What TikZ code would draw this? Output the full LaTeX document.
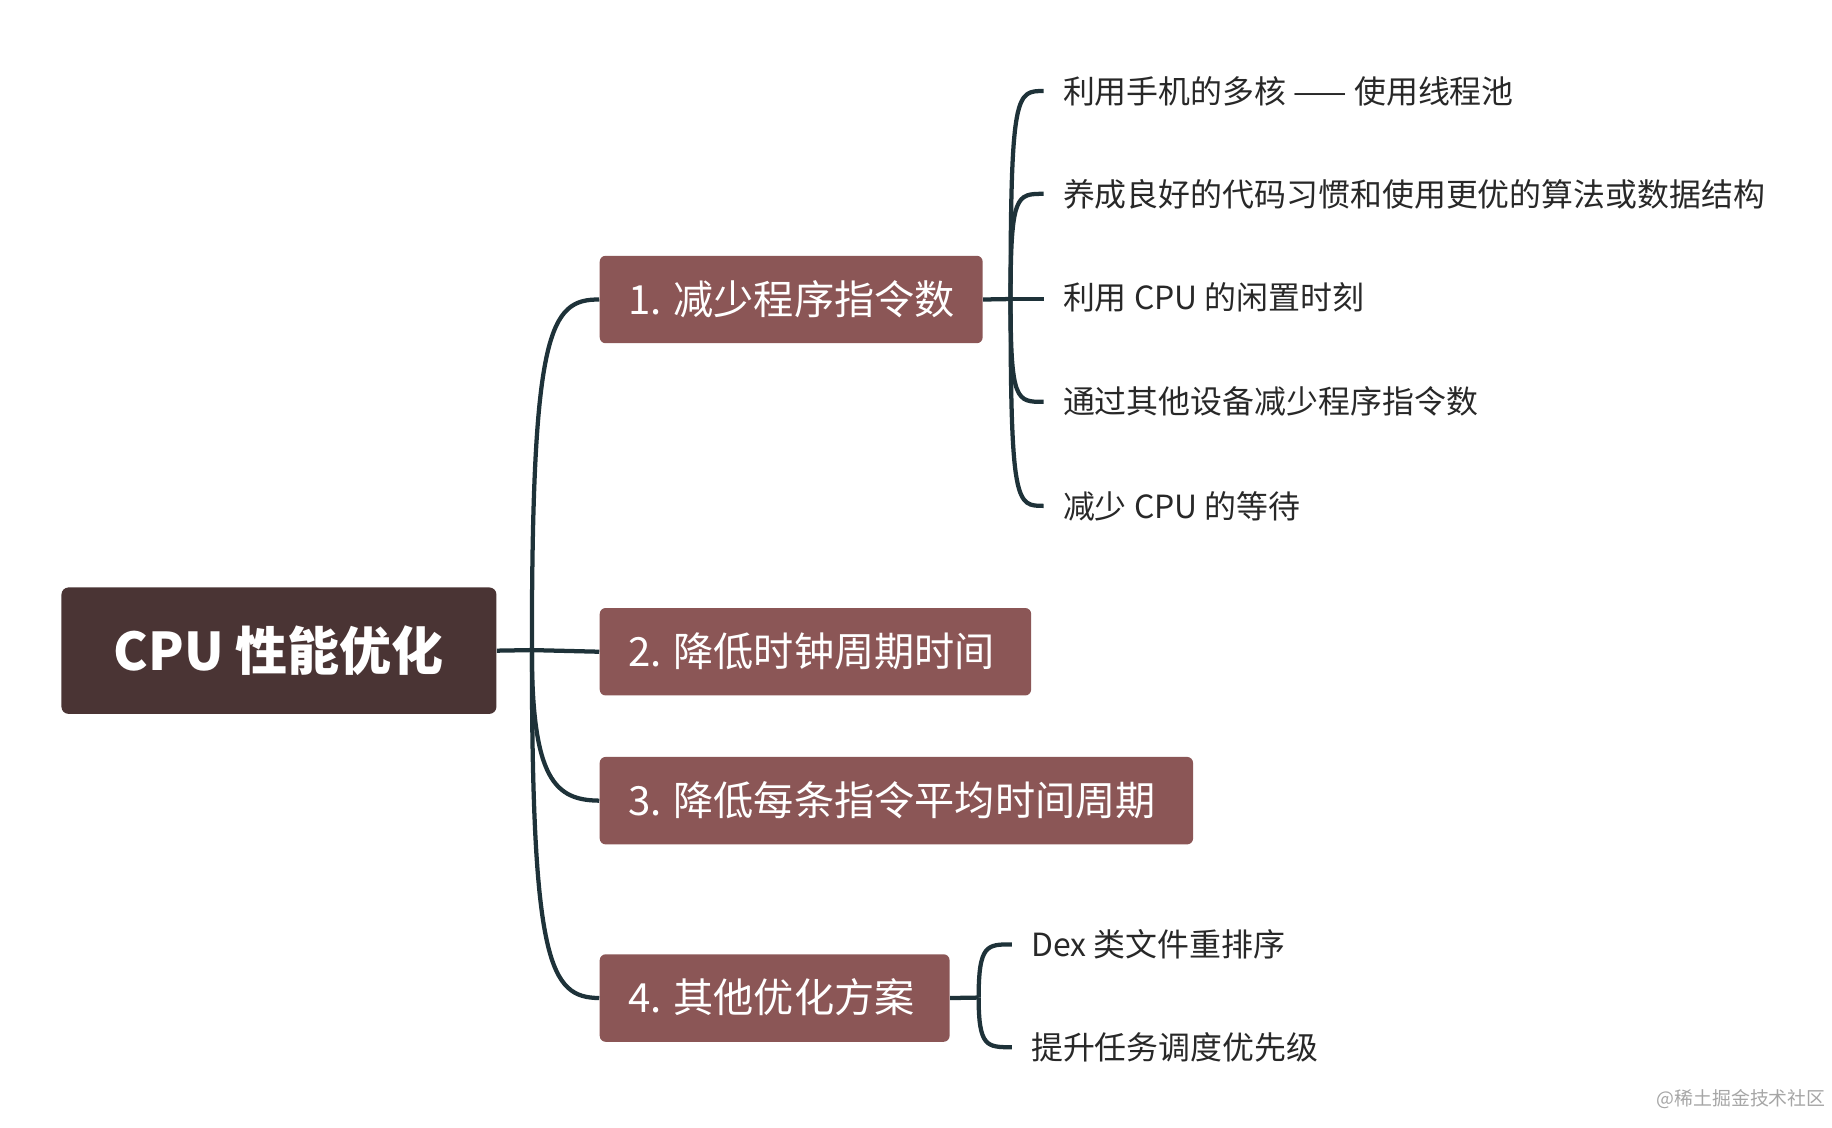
\documentclass[tikz,border=0pt]{standalone}
\usepackage{fontspec}
\setmainfont{Noto Sans CJK SC}
\begin{document}
\begin{tikzpicture}[x=0.5pt,y=-0.5pt,
 root/.style={fill={rgb,255:red,74;green,52;blue,52},rounded corners=3pt,text=white,font=\fontsize{22}{24}\selectfont\bfseries,inner sep=0pt},
 br/.style={fill={rgb,255:red,139;green,86;blue,86},rounded corners=2.5pt,text=white,font=\fontsize{17}{20}\selectfont,inner sep=0pt,anchor=north west},
 leaf/.style={anchor=west,font=\fontsize{13.5}{16}\selectfont,text={rgb,255:red,40;green,40;blue,40},inner sep=0pt},
 con/.style={draw={rgb,255:red,30;green,50;blue,57},line width=1.8pt}]
\useasboundingbox (0,0) rectangle (1550,954);
\node[root,minimum width=184pt,minimum height=53.5pt] (r) at (236,550.5) {CPU 性能优化};
\node[br,minimum width=162pt,minimum height=37pt] (b1) at (507,216) {};
\node[anchor=west,text=white,font=\fontsize{17}{20}\selectfont,inner sep=0pt] at (531,253) {1. 减少程序指令数};
\node[br,minimum width=182.5pt,minimum height=37pt] (b2) at (507,514) {};
\node[anchor=west,text=white,font=\fontsize{17}{20}\selectfont,inner sep=0pt] at (531,551) {2. 降低时钟周期时间};
\node[br,minimum width=251pt,minimum height=37pt] (b3) at (507,640) {};
\node[anchor=west,text=white,font=\fontsize{17}{20}\selectfont,inner sep=0pt] at (531,677) {3. 降低每条指令平均时间周期};
\node[br,minimum width=148pt,minimum height=37pt] (b4) at (507,807) {};
\node[anchor=west,text=white,font=\fontsize{17}{20}\selectfont,inner sep=0pt] at (531,844) {4. 其他优化方案};
\coordinate (t) at (450,550);
\draw[con] (r.east) -- (t);
\draw[con] (t) .. controls (450,280) and (465,253) .. (b1.west);
\draw[con] (t) -- (b2.west);
\draw[con] (t) .. controls (450,660) and (470,677) .. (b3.west);
\draw[con] (t) .. controls (450,815) and (465,844) .. (b4.west);
\node[leaf] (l1) at (899,77) {利用手机的多核 —— 使用线程池};
\node[leaf] (l2) at (899,164) {养成良好的代码习惯和使用更优的算法或数据结构};
\node[leaf] (l3) at (899,252) {利用 CPU 的闲置时刻};
\node[leaf] (l4) at (899,340) {通过其他设备减少程序指令数};
\node[leaf] (l5) at (899,428) {减少 CPU 的等待};
\coordinate (s1) at (855,253);
\draw[con] (b1.east) -- (s1);
\foreach \y in {77,164,340,428}{\draw[con] (s1) .. controls (855,\y) and (860,\y) .. (883,\y);}
\draw[con] (s1) -- (883,253);
\node[leaf] (m1) at (872,799) {Dex 类文件重排序};
\node[leaf] (m2) at (872,886) {提升任务调度优先级};
\coordinate (s4) at (828,844);
\draw[con] (b4.east) -- (s4);
\draw[con] (s4) .. controls (828,799) and (835,799) .. (856,799);
\draw[con] (s4) .. controls (828,886) and (835,886) .. (856,886);
\node[anchor=east,font=\fontsize{8}{9}\selectfont,text=gray!70,inner sep=0pt] (w) at (1545,930) {@稀土掘金技术社区};
\end{tikzpicture}
\end{document}
